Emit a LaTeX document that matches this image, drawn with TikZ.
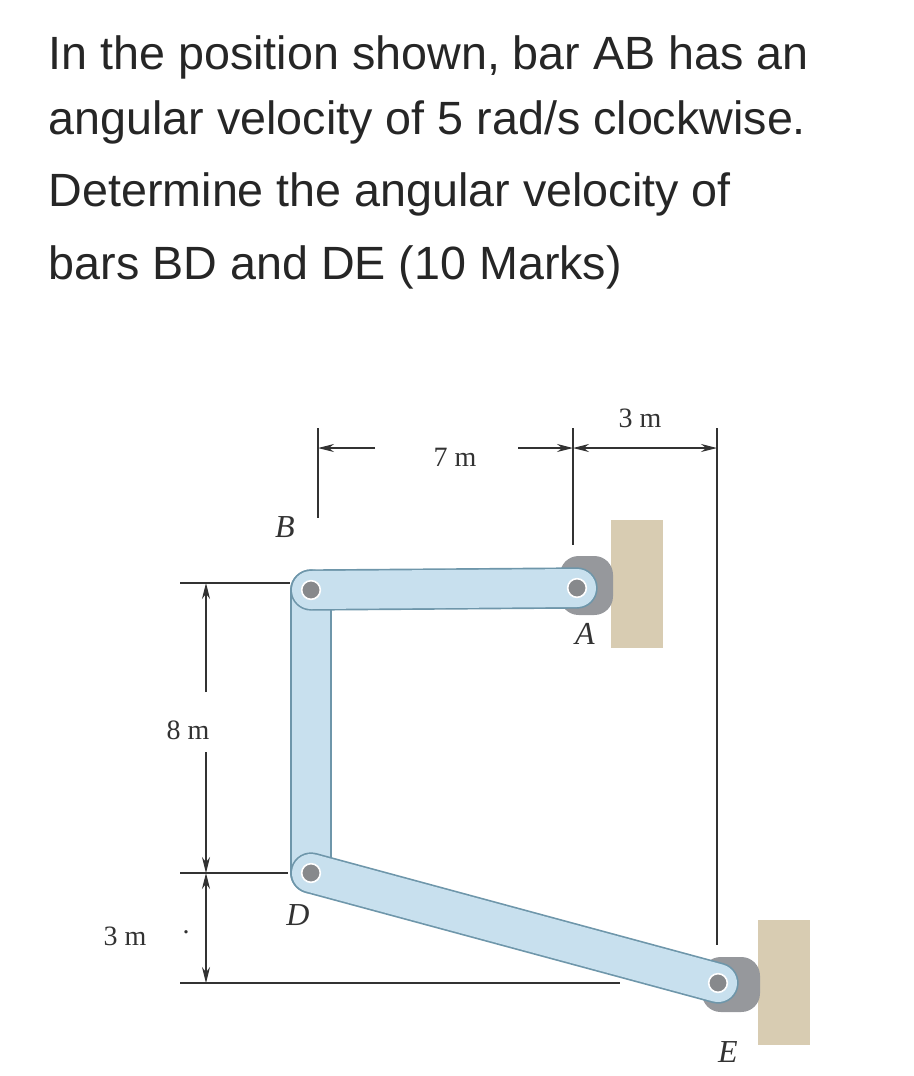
\documentclass[tikz,border=0pt]{standalone}
\usepackage{fontspec}
\setmainfont{Liberation Serif}
\newfontfamily\titlefont{Liberation Sans}
\usetikzlibrary{arrows.meta}
\definecolor{barfill}{RGB}{200,224,238}
\definecolor{barline}{RGB}{110,150,170}
\definecolor{wallc}{RGB}{216,204,178}
\definecolor{brk}{RGB}{150,152,156}
\definecolor{dimc}{RGB}{50,50,50}
\tikzset{
 barout/.style={line width=31pt,line cap=round,draw=barline},
 barin/.style={line width=28.5pt,line cap=round,draw=barfill},
 pin/.style={circle,draw=white,line width=1.2pt,fill=brk!90!black,minimum size=14pt,inner sep=0},
 dim/.style={draw=dimc,line width=0.9pt},
 tip/.tip={Stealth[length=12pt,width=6pt]},
 darr/.style={dim,-tip},
 lab/.style={font=\itshape\fontsize{24}{26}\selectfont,text=dimc},
 dlab/.style={font=\fontsize{21}{24}\selectfont,text=dimc},
 ttl/.style={font=\titlefont\fontsize{35}{40}\selectfont,anchor=west,text=black!85}
}
\begin{document}
\begin{tikzpicture}[x=0.75pt,y=-0.75pt]
\useasboundingbox (0,0) rectangle (914,1076);
\node[ttl] (t1) at (44,57) {In the position shown, bar AB has an};
\node[ttl] (t2) at (44,122) {angular velocity of 5 rad/s clockwise.};
\node[ttl] (t3) at (44,194) {Determine the angular velocity of};
\node[ttl] (t4) at (44,267) {bars BD and DE (10 Marks)};
% walls and brackets
\fill[wallc] (611,520) rectangle (663,648);
\fill[wallc] (758,920) rectangle (810,1045);
\fill[brk,rounded corners=14pt] (560,556) -- (613,556) -- (613,615) -- (560,615) -- cycle;
\fill[brk,rounded corners=14pt] (702,957) -- (760,957) -- (760,1012) -- (702,1012) -- cycle;
% pins
\coordinate (B) at (311,590);
\coordinate (A) at (577,588);
\coordinate (D) at (311,873);
\coordinate (E) at (718,983);
% bars
\draw[barout] (B) -- (D); \draw[barin] (B) -- (D);
\draw[barout] (D) -- (E); \draw[barin] (D) -- (E);
\draw[barout] (B) -- (A); \draw[barin] (B) -- (A);
\node[pin] (pB) at (B) {};
\node[pin] (pA) at (A) {};
\node[pin] (pD) at (D) {};
\node[pin] (pE) at (E) {};
% labels
\node[lab] (lB) at (285,527) {B};
\node[lab] (lA) at (585,634) {A};
\node[lab] (lD) at (298,915) {D};
\node[lab] (lE) at (728,1052) {E};
% top dimensions
\draw[dim] (318,428) -- (318,518);
\draw[dim] (573,428) -- (573,545);
\draw[dim] (717,428) -- (717,945);
\node[dlab] (d7) at (455,457) {7 m};
\node[dlab] (d3) at (640,418) {3 m};
\coordinate (c1) at (318,448); \coordinate (c2) at (573,448); \coordinate (c3) at (717,448);
\coordinate (c4) at (375,448); \coordinate (c5) at (518,448);
\draw[darr] (c4) -- (c1);
\draw[darr] (c5) -- (c2);
\draw[dim,tip-tip] (c2) -- (c3);
% left dimensions
\draw[dim] (180,583) -- (290,583);
\draw[dim] (180,873) -- (288,873);
\draw[dim] (180,983) -- (620,983);
\node[dlab] (d8) at (188,730) {8 m};
\node[dlab] (d3b) at (125,936) {3 m};
\node[dlab] (dot) at (186,932) {.};
\coordinate (u1) at (206,583); \coordinate (u2) at (206,873); \coordinate (u3) at (206,983);
\draw[darr] (206,692) -- (u1);
\draw[darr] (206,752) -- (u2);
\draw[dim,tip-tip] (u2) -- (u3);
\end{tikzpicture}
\end{document}
